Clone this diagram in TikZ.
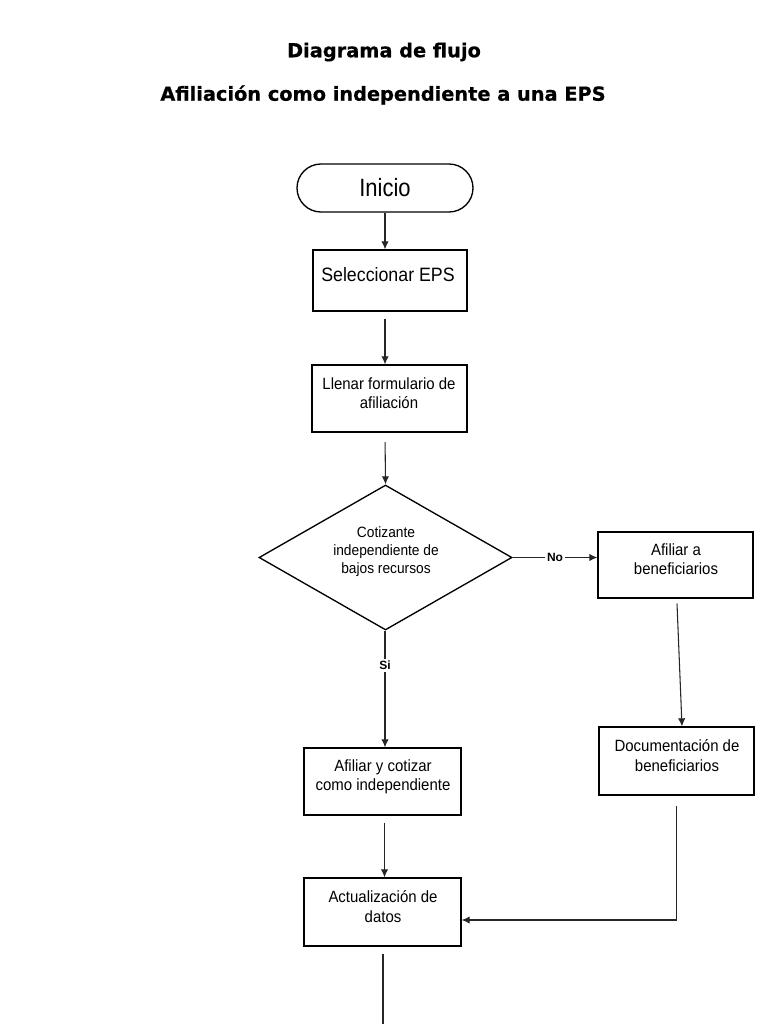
\documentclass[tikz,border=0pt]{standalone}
\usepackage{fontspec}
\setmainfont{Liberation Sans}
\newfontfamily\boxfont[FakeStretch=0.92]{Liberation Sans}
\newfontfamily\inifont[FakeStretch=0.88]{Liberation Sans}
\newfontfamily\titlefont[FakeBold=0.6]{DejaVu Sans}
\usetikzlibrary{arrows.meta,shapes.geometric,calc}
\tikzset{
  box/.style={draw=black, line width=1pt, rectangle, minimum width=116pt, inner sep=0pt},
  txt/.style={align=center, inner sep=0pt, font=\boxfont\fontsize{12.2}{14.5}\selectfont},
  ttl/.style={inner sep=0pt, font=\titlefont\bfseries\fontsize{14.5}{17}\selectfont},
  conn/.style={draw=black!85, line width=0.8pt},
  arr/.style={conn, -{Latex[length=6pt,width=5.5pt]}},
  lbl/.style={fill=white, inner sep=1.5pt, font=\bfseries\fontsize{9}{10}\selectfont},
}
\begin{document}
\begin{tikzpicture}[x=0.75pt,y=-0.75pt]
\useasboundingbox (0,0) rectangle (768,1024);
\fill[white] (0,0) rectangle (768,1024);

\node[ttl] (t1) at (384,52) {Diagrama de flujo};
\node[ttl] (t2) at (383,95) {Afiliación como independiente a una EPS};

\coordinate (colA) at (385,0);

\node[draw=black, line width=1pt, rectangle, rounded corners=18pt, minimum width=132pt, minimum height=36pt, inner sep=0pt,
      font=\inifont\fontsize{18.75}{20}\selectfont] (ini) at (385,188) {Inicio};

\node[box, minimum width=115.5pt, minimum height=45.75pt] (b1) at (390,280.5) {};
\node[txt, font=\boxfont\fontsize{14.5}{16}\selectfont] (b1t) at (388,275) {Seleccionar EPS};

\node[box, minimum width=116.25pt, minimum height=50.25pt] (b2) at (389.5,398.5) {};
\node[txt] (b2t) at (389,393) {Llenar formulario de\\afiliación};

\node[draw=black, line width=1pt, diamond, minimum width=189.75pt, minimum height=108.75pt, inner sep=0pt] (d) at (385.5,557.5) {};
\node[txt, font=\boxfont\fontsize{11.2}{13.5}\selectfont] (dt) at (386,552) {Cotizante\\independiente de\\bajos recursos};

\node[box, minimum width=116.25pt, minimum height=49.5pt] (b3) at (675.5,565) {};
\node[txt] (b3t) at (676,559) {Afiliar a\\beneficiarios};

\node[box, minimum width=116.25pt, minimum height=51pt] (b4) at (676.5,761) {};
\node[txt] (b4t) at (677,755.5) {Documentación de\\beneficiarios};

\node[box, minimum width=117.75pt, minimum height=50.25pt] (b5) at (382.5,781.5) {};
\node[txt] (b5t) at (383,776.5) {Afiliar y cotizar\\como independiente};

\node[box, minimum width=117.75pt, minimum height=51pt] (b6) at (382.5,912) {};
\node[txt] (b6t) at (383,906.5) {Actualización de\\datos};

\coordinate (endpt) at (383,1024);

% connectors
\draw[arr] (ini.south) -- (ini.south |- b1.north);
\draw[arr, shorten <=5.25pt] (b1.south -| colA) -- (b2.north -| colA);
\draw[arr, shorten <=7pt] (b2.south -| colA) -- (d.north);
\draw[arr] (d.east) -- node[lbl, pos=0.5] (no) {No} (d.east -| b3.west);
\draw[arr] ($(b3.south)+(1.5,5)$) -- ($(b4.north)+(5.5,0)$);
\draw[arr] (d.south -| colA) -- node[lbl, pos=0.3] (si) {Si} (b5.north -| colA);
\draw[arr, shorten <=5.25pt] ($(b5.south)+(2,0)$) -- ($(b6.north)+(2,0)$);
\draw[arr, shorten <=7.5pt] (b4.south) |- ($(b6.east)+(0,8)$);
\draw[conn, shorten <=5.25pt] ($(b6.south)+(0.5,0)$) -- (endpt);
\end{tikzpicture}
\end{document}
